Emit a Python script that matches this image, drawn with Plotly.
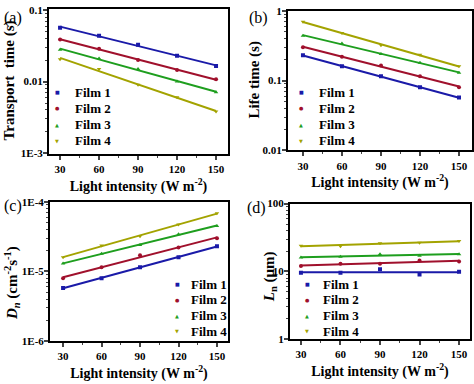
import numpy as np
import plotly.graph_objects as go

intensity = [30, 60, 90, 120, 150]
films = ["Film 1", "Film 2", "Film 3", "Film 4"]

transport_time = [
    [0.057, 0.044, 0.033, 0.023, 0.0165],
    [0.039, 0.029, 0.020, 0.0145, 0.0108],
    [0.028, 0.021, 0.015, 0.0100, 0.0071],
    [0.0205, 0.0150, 0.0090, 0.0060, 0.0038],
]
life_time = [
    [0.23, 0.16, 0.115, 0.080, 0.057],
    [0.30, 0.22, 0.165, 0.115, 0.080],
    [0.44, 0.34, 0.24, 0.180, 0.130],
    [0.70, 0.48, 0.32, 0.235, 0.160],
]
diffusion = [
    [5.8e-6, 8.0e-6, 1.15e-5, 1.6e-5, 2.3e-5],
    [8.0e-6, 1.15e-5, 1.7e-5, 2.2e-5, 3.0e-5],
    [1.3e-5, 1.8e-5, 2.4e-5, 3.4e-5, 4.5e-5],
    [1.6e-5, 2.35e-5, 3.2e-5, 4.7e-5, 6.8e-5],
]
diff_length = [
    [9.6, 9.6, 10.8, 9.0, 9.9],
    [12.0, 13.0, 13.0, 14.5, 14.0],
    [16.0, 16.5, 18.0, 17.0, 18.0],
    [24.0, 23.5, 26.0, 26.5, 28.0],
]

colors = ["#1a1aa8", "#a0102c", "#1e9e1e", "#a3a300"]
symbols = ["square", "circle", "triangle-up", "triangle-down"]
legend_glyphs = ["■", "●", "▲", "▼"]

FONT = "Liberation Serif"
W, H = 474, 384

# panel boxes in pixels: left, right, top, bottom
boxes = [
    (49, 228, 3, 153),
    (288, 472, 5, 149),
    (50, 228, 202, 346),
    (290, 470, 204, 344),
]
yranges = [[-3.02, -0.98], [-2, 0], [-6, -4], [0, 2]]
xranges = [[21.5, 159.2], [18.5, 160], [19.8, 158.6], [21.7, 158.3]]
ytickvals = [[0.001, 0.01, 0.1], [0.01, 0.1, 1], [1e-6, 1e-5, 1e-4], [1, 10, 100]]
yticktext = [["1E-3", "0.01", "0.1"], ["0.01", "0.1", "1"], ["1E-6", "1E-5", "1E-4"], ["1", "10", "100"]]
ytitles = [
    "<b>Transport  time (s)</b>",
    "<b>Life time (s)</b>",
    "<b><i>D<sub>n</sub></i> (cm<sup>-2</sup>s<sup>-1</sup>)</b>",
    "<b><i>L</i><sub>n</sub> (μm)</b>",
]
ytitle_pos = [(10, 77), (255, 77), (12, 286), (270, 280)]
panel_labels = ["(a)", "(b)", "(c)", "(d)"]
datasets = [transport_time, life_time, diffusion, diff_length]
# legend layout per panel: marker x, text x, first row y, row step (pixels)
legend_layout = [(57, 73, 89, 16.7), (301, 317, 89, 16.7), (177, 189, 287, 16.3), (307, 321, 287, 16.3)]

fig = go.Figure()
x_arr = np.array(intensity, dtype=float)
for p, data in enumerate(datasets):
    ax = "" if p == 0 else str(p + 1)
    for i, series in enumerate(data):
        y = np.array(series)
        slope, icpt = np.polyfit(x_arr, np.log10(y), 1)
        xf = np.array([intensity[0], intensity[-1]], dtype=float)
        yf = 10 ** (slope * xf + icpt)
        fig.add_trace(go.Scatter(
            x=xf, y=yf, mode="lines", line=dict(color=colors[i], width=2),
            xaxis="x" + ax, yaxis="y" + ax, showlegend=False, hoverinfo="skip"))
        fig.add_trace(go.Scatter(
            x=intensity, y=series, mode="markers", name=films[i],
            marker=dict(color=colors[i], symbol=symbols[i], size=4),
            xaxis="x" + ax, yaxis="y" + ax, showlegend=False))

layout = dict(
    width=W, height=H, margin=dict(l=0, r=0, t=0, b=0),
    plot_bgcolor="white", paper_bgcolor="white", showlegend=False,
    font=dict(family=FONT, color="black", size=12),
)
for p in range(4):
    l, r, t, b = boxes[p]
    ax = "" if p == 0 else str(p + 1)
    xd = [l / W, r / W]
    yd = [1 - b / H, 1 - t / H]
    layout["xaxis" + ax] = dict(
        domain=xd, range=xranges[p], anchor="y" + ax,
        tickvals=[30, 60, 90, 120, 150], ticks="outside", ticklen=4, tickwidth=1.5,
        minor=dict(tickvals=[45, 75, 105, 135], ticks="outside", ticklen=2, tickwidth=1),
        showline=True, linecolor="black", linewidth=2, mirror=True, showgrid=False,
        zeroline=False, tickfont=dict(family=FONT, size=11, color="black", weight="bold"),
        title=dict(text="<b>Light intensity (W m<sup>-2</sup>)</b>",
                   font=dict(family=FONT, size=14), standoff=7),
    )
    layout["yaxis" + ax] = dict(
        domain=yd, range=yranges[p], type="log", anchor="x" + ax,
        tickvals=ytickvals[p], ticktext=yticktext[p], ticks="outside", ticklen=4, tickwidth=1.5,
        minor=dict(ticks="outside", ticklen=2, tickwidth=1, dtick="D1", showgrid=False),
        ticklabelstandoff=-2,
        showline=True, linecolor="black", linewidth=2, mirror=True, showgrid=False,
        zeroline=False, tickfont=dict(family=FONT, size=11, color="black", weight="bold"),
    )

fig.update_layout(**layout)
label_pos = [(2, 12), (247, 12), (2, 206), (245, 208)]
for p, (px, py) in enumerate(label_pos):
    fig.add_annotation(text=panel_labels[p], x=px / W, y=1 - py / H, xref="paper", yref="paper",
                       xanchor="left", yanchor="middle", showarrow=False,
                       font=dict(family=FONT, size=16, color="black"))
for p, (px, py) in enumerate(ytitle_pos):
    fig.add_annotation(text=ytitles[p], x=px / W, y=1 - py / H, xref="paper", yref="paper",
                       xanchor="center", yanchor="middle", showarrow=False, textangle=-90,
                       font=dict(family=FONT, size=15, color="black"))
# legends
for p, (mx, tx, y0, step) in enumerate(legend_layout):
    for i, name in enumerate(films):
        yy = 1 - (y0 + i * step) / H
        fig.add_annotation(text=legend_glyphs[i], x=mx / W, y=yy, xref="paper", yref="paper",
                           xanchor="center", yanchor="middle", showarrow=False,
                           font=dict(family="DejaVu Sans", size=5, color=colors[i]))
        fig.add_annotation(text=f"<b>{name}</b>", x=tx / W, y=yy, xref="paper", yref="paper",
                           xanchor="left", yanchor="middle", showarrow=False,
                           font=dict(family=FONT, size=13, color="black"))

fig.write_html("out.html", config={"displayModeBar": False},
               post_script="document.body.style.margin='0';document.body.style.overflow='hidden';")
